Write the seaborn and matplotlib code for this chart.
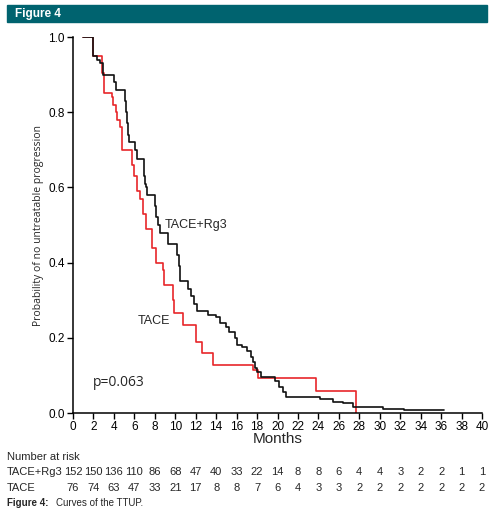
import matplotlib
matplotlib.use("Agg")
import matplotlib.pyplot as plt
import matplotlib.transforms as mtransforms
from matplotlib.patches import Rectangle
import pandas as pd
import seaborn as sns

# Step curves (months, probability)
rg3_months = [0, 1.0, 2.0, 2.35, 2.65, 2.9, 4.0, 4.2, 5.1, 5.2, 5.3, 5.4, 5.5, 6.1, 6.3,
              6.9, 7.0, 7.1, 7.25, 8.0, 8.1, 8.3, 8.5, 9.3, 10.2, 10.35, 10.5, 11.2,
              11.5, 11.8, 12.1, 13.2, 14.0, 14.4, 15.0, 15.3, 15.8, 16.0, 16.5, 17.0,
              17.4, 17.6, 17.8, 18.0, 18.4, 19.8, 20.1, 20.5, 20.8, 21.3, 24.2, 25.4,
              26.4, 27.4, 30.3, 32.4, 36.3]
rg3_surv = [1.0, 1.0, 0.95, 0.94, 0.93, 0.90, 0.88, 0.86, 0.83, 0.80, 0.77, 0.74, 0.72, 0.70, 0.675,
            0.63, 0.61, 0.60, 0.58, 0.55, 0.52, 0.50, 0.48, 0.45, 0.42, 0.39, 0.35, 0.33,
            0.31, 0.29, 0.27, 0.26, 0.255, 0.24, 0.23, 0.215, 0.20, 0.18, 0.175, 0.165,
            0.15, 0.135, 0.12, 0.11, 0.095, 0.085, 0.07, 0.055, 0.042, 0.042, 0.037, 0.03,
            0.026, 0.016, 0.011, 0.007, 0.007]

tace_months = [0, 1.0, 2.0, 2.85, 3.0, 3.8, 3.9, 4.2, 4.3, 4.6, 4.8, 5.8, 6.0, 6.3, 6.6,
               6.8, 7.1, 7.75, 8.1, 8.8, 8.9, 9.8, 9.9, 10.8, 12.0, 12.6, 13.7, 17.6,
               18.1, 23.8, 27.7]
tace_surv = [1.0, 1.0, 0.95, 0.905, 0.85, 0.84, 0.82, 0.80, 0.78, 0.76, 0.70, 0.66, 0.63, 0.59, 0.57,
             0.53, 0.49, 0.44, 0.40, 0.38, 0.34, 0.30, 0.265, 0.235, 0.19, 0.16, 0.127, 0.114,
             0.093, 0.058, 0.0]

risk_months = list(range(0, 41, 2))
rg3_at_risk = [152, 150, 136, 110, 86, 68, 47, 40, 33, 22, 14, 8, 8, 6, 4, 4, 3, 2, 2, 1, 1]
tace_at_risk = [76, 74, 63, 47, 33, 21, 17, 8, 8, 7, 6, 4, 3, 3, 2, 2, 2, 2, 2, 2, 2]

df = pd.concat([
    pd.DataFrame({"months": rg3_months[1:], "surv": rg3_surv[1:], "group": "TACE+Rg3"}),
    pd.DataFrame({"months": tace_months[1:], "surv": tace_surv[1:], "group": "TACE"}),
], ignore_index=True)

sns.set_style("ticks")
plt.rcParams["font.family"] = ["Liberation Sans", "DejaVu Sans"]
narrow = ["Liberation Sans Narrow", "Liberation Sans", "DejaVu Sans"]

fig = plt.figure(figsize=(5.02, 5.21), dpi=100)
ax = fig.add_axes([73 / 502, 1 - 413 / 521, 409 / 502, 376 / 521])

sns.lineplot(data=df, x="months", y="surv", hue="group", hue_order=["TACE", "TACE+Rg3"],
             palette={"TACE+Rg3": "#111111", "TACE": "#e8262a"}, estimator=None,
             sort=False, drawstyle="steps-post", linewidth=1.2, legend=False, ax=ax)

ax.set_xlim(0, 40)
ax.set_ylim(0, 1.0)
ax.set_xticks(risk_months)
ax.set_yticks([0, 0.2, 0.4, 0.6, 0.8, 1.0])
ax.set_yticklabels(["0.0", "0.2", "0.4", "0.6", "0.8", "1.0"])
ax.tick_params(labelsize=8.5, length=4, width=1, direction="out", pad=2, colors="black")
for s in ["top", "right"]:
    ax.spines[s].set_visible(False)
for s in ["left", "bottom"]:
    ax.spines[s].set_linewidth(1.1)
    ax.spines[s].set_color("black")
ax.set_xlabel("Months", fontsize=11, labelpad=-1)
ax.set_ylabel("Probability of no untreatable progression", fontsize=7.5,
              family=["Open Sans", "DejaVu Sans"], labelpad=3)

ax.text(9.0, 0.50, "TACE+Rg3", fontsize=9, va="center", ha="left")
ax.text(6.3, 0.245, "TACE", fontsize=9, va="center", ha="left")
ax.text(1.9, 0.08, "p=0.063", fontsize=10, va="center", ha="left",
        family=["Open Sans", "DejaVu Sans"])

# header bar
fig.patches.append(Rectangle((7 / 502, 1 - 22 / 521), 480 / 502, 17 / 521,
                             transform=fig.transFigure, color="#00636f", zorder=0))
fig.text(15 / 502, 1 - 13.5 / 521, "Figure 4", color="white", fontsize=8.5,
         fontweight="bold", va="center", ha="left", family=narrow)

# number at risk table
trans = mtransforms.blended_transform_factory(ax.transData, fig.transFigure)
fig.text(7 / 502, 1 - 457 / 521, "Number at risk", fontsize=8, va="center")
fig.text(7 / 502, 1 - 472 / 521, "TACE+Rg3", fontsize=8, va="center")
fig.text(7 / 502, 1 - 488 / 521, "TACE", fontsize=8, va="center")
for m, a, b in zip(risk_months, rg3_at_risk, tace_at_risk):
    ax.text(m, 1 - 472 / 521, str(a), transform=trans, fontsize=8, ha="center",
            va="center", clip_on=False)
    ax.text(m, 1 - 488 / 521, str(b), transform=trans, fontsize=8, ha="center",
            va="center", clip_on=False)

fig.text(7 / 502, 1 - 503 / 521, "Figure 4:", fontsize=7, fontweight="bold", va="center",
         family=narrow)
fig.text(56 / 502, 1 - 503 / 521, "Curves of the TTUP.", fontsize=7, va="center",
         family=narrow)

fig.savefig("out.png", dpi=100)
